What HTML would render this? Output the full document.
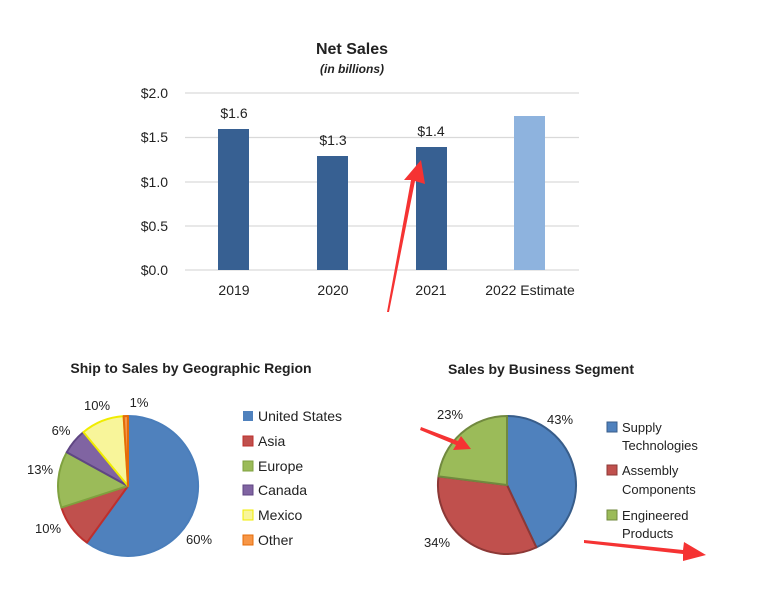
<!DOCTYPE html>
<html><head><style>
body{margin:0;background:#fff;}
svg text{font-family:"Liberation Sans",sans-serif;fill:#222;}
</style></head><body>
<svg width="762" height="593" viewBox="0 0 762 593" xmlns="http://www.w3.org/2000/svg">
<text x="352" y="54" font-size="16" font-weight="bold" text-anchor="middle">Net Sales</text>
<text x="352" y="73" font-size="12" font-weight="bold" font-style="italic" text-anchor="middle">(in billions)</text>
<g stroke="#d9d9d9" stroke-width="1.3">
<line x1="185" y1="93" x2="579" y2="93"/><line x1="185" y1="137.5" x2="579" y2="137.5"/>
<line x1="185" y1="182" x2="579" y2="182"/><line x1="185" y1="226" x2="579" y2="226"/>
<line x1="185" y1="270" x2="579" y2="270"/></g>
<g font-size="14" text-anchor="end">
<text x="168" y="98">$2.0</text><text x="168" y="142">$1.5</text><text x="168" y="187">$1.0</text>
<text x="168" y="231">$0.5</text><text x="168" y="275">$0.0</text></g>
<rect x="218" y="129" width="31" height="141" fill="#376092"/>
<rect x="317" y="156" width="31" height="114" fill="#376092"/>
<rect x="416" y="147" width="31" height="123" fill="#376092"/>
<rect x="514" y="116" width="31" height="154" fill="#8eb3de"/>
<g font-size="14" text-anchor="middle">
<text x="234" y="118">$1.6</text><text x="333" y="145">$1.3</text><text x="431" y="136">$1.4</text>
<text x="234" y="295">2019</text><text x="333" y="295">2020</text><text x="431" y="295">2021</text><text x="530" y="295">2022 Estimate</text></g>

<text x="191" y="373" font-size="14" font-weight="bold" text-anchor="middle">Ship to Sales by Geographic Region</text>
<text x="541" y="374" font-size="14" font-weight="bold" text-anchor="middle">Sales by Business Segment</text>

<g stroke-width="2" stroke-linejoin="round">
<path d="M128 486 L128 416 A70 70 0 1 1 86.9 542.6 Z" fill="#4f81bd" stroke="#4a7ebb"/>
<path d="M128 486 L86.9 542.6 A70 70 0 0 1 61.4 507.6 Z" fill="#c0504d" stroke="#be2f2c"/>
<path d="M128 486 L61.4 507.6 A70 70 0 0 1 66.7 452.3 Z" fill="#9bbb59" stroke="#7fa13f"/>
<path d="M128 486 L66.7 452.3 A70 70 0 0 1 83.4 432.1 Z" fill="#8064a2" stroke="#5f4683"/>
<path d="M128 486 L83.4 432.1 A70 70 0 0 1 123.6 416.1 Z" fill="#f8f59a" stroke="#f0ec00"/>
<path d="M128 486 L123.6 416.1 A70 70 0 0 1 128 416 Z" fill="#f79646" stroke="#e46c0a"/>
</g>
<g font-size="13" text-anchor="middle">
<text x="97" y="410">10%</text><text x="139" y="407">1%</text><text x="61" y="435">6%</text>
<text x="40" y="474">13%</text><text x="48" y="533">10%</text><text x="199" y="544">60%</text></g>
<g font-size="14">
<rect x="243" y="411" width="10" height="10" fill="#4f81bd"/><text x="258" y="421">United States</text>
<rect x="243" y="436" width="10" height="10" fill="#c0504d" stroke="#be2f2c"/><text x="258" y="446">Asia</text>
<rect x="243" y="461" width="10" height="10" fill="#9bbb59" stroke="#7fa13f"/><text x="258" y="471">Europe</text>
<rect x="243" y="485" width="10" height="10" fill="#8064a2" stroke="#5f4683"/><text x="258" y="495">Canada</text>
<rect x="243" y="510" width="10" height="10" fill="#f8f59a" stroke="#f0ec00"/><text x="258" y="520">Mexico</text>
<rect x="243" y="535" width="10" height="10" fill="#f79646" stroke="#e46c0a"/><text x="258" y="545">Other</text></g>

<g stroke-width="2" stroke-linejoin="round">
<path d="M507 485 L507 416 A69 69 0 0 1 536.4 547.4 Z" fill="#4f81bd" stroke="#385d8a"/>
<path d="M507 485 L536.4 547.4 A69 69 0 0 1 438.5 476.4 Z" fill="#c0504d" stroke="#8c3836"/>
<path d="M507 485 L438.5 476.4 A69 69 0 0 1 507 416 Z" fill="#9bbb59" stroke="#71893f"/>
</g>
<g font-size="13" text-anchor="middle">
<text x="450" y="419">23%</text><text x="560" y="424">43%</text><text x="437" y="547">34%</text></g>
<g font-size="13">
<rect x="607" y="422" width="10" height="10" fill="#4f81bd" stroke="#385d8a"/><text x="622" y="432">Supply</text><text x="622" y="450">Technologies</text>
<rect x="607" y="465" width="10" height="10" fill="#c0504d" stroke="#8c3836"/><text x="622" y="475">Assembly</text><text x="622" y="494">Components</text>
<rect x="607" y="510" width="10" height="10" fill="#9bbb59" stroke="#71893f"/><text x="622" y="520">Engineered</text><text x="622" y="538">Products</text></g>

<g fill="#f53333">
<polygon points="387,312 411,180 404,180 421,160 425,184 415,181 389,312"/>
<polygon points="421,427 458,441 461,436 471,449 453,450 456,445 420,430"/>
<polygon points="584,540 683,550 684,542 706,555 683,561 683,554 584,543"/>
</g>
</svg>
</body></html>
